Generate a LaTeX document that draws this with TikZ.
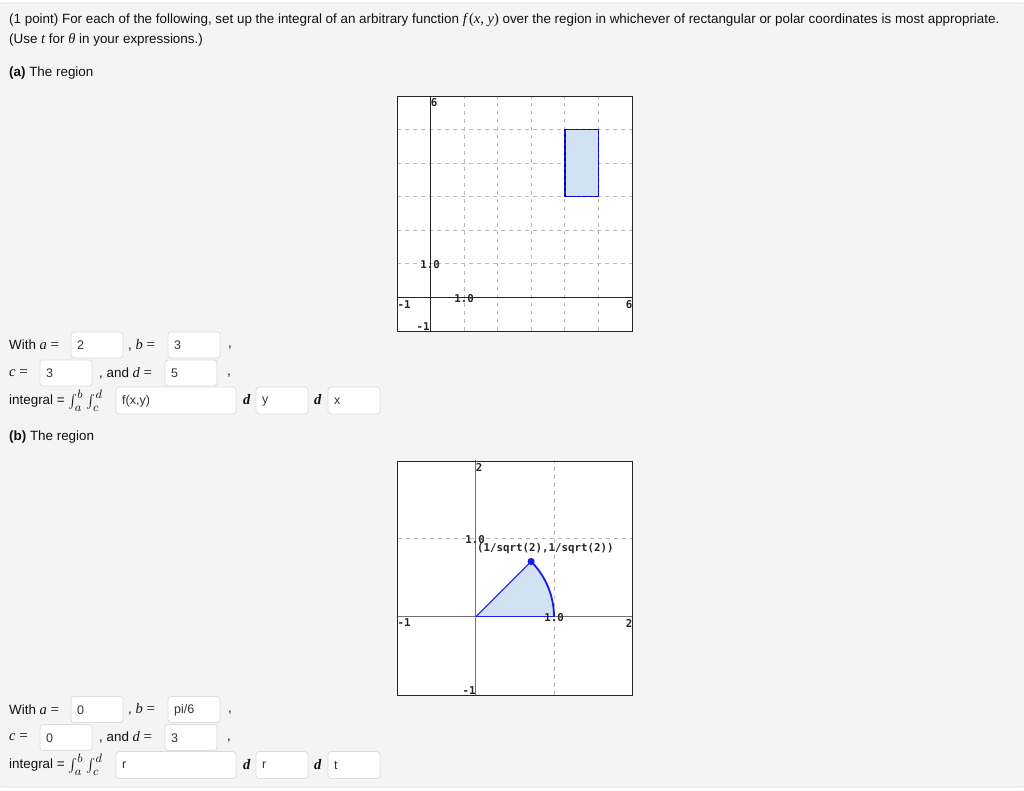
\documentclass[tikz,border=0pt]{standalone}
\usepackage{graphicx}
\usepackage{fontspec}
\setmainfont{Liberation Sans}
\newfontfamily\serifit{Liberation Serif}[ItalicFont={Liberation Serif Italic}]
\newfontfamily\monob{DejaVu Sans Mono Bold}
\definecolor{panel}{HTML}{F4F4F4}
\definecolor{panelline}{HTML}{DDDDDD}
\definecolor{boxline}{HTML}{DCDCDC}
\definecolor{txt}{HTML}{111111}
\definecolor{inp}{HTML}{333333}
\definecolor{gridc}{HTML}{B8B8B8}
\definecolor{regfill}{HTML}{D3E2F2}
\definecolor{regblue}{HTML}{1A1AF0}
\newcommand{\mi}[1]{{\serifit\fontsize{14.5}{15}\selectfont\itshape #1}}
\newcommand{\meq}{{\serifit\fontsize{15}{15}\selectfont =}}
\newcommand{\intab}{\raisebox{-2pt}{\scalebox{1.35}{$\int_a^b \int_c^d$}}}
\tikzset{
  lbl/.style={inner sep=0pt, anchor=west, text=txt, font=\fontsize{13.4}{15}\selectfont},
  inbox/.style={draw=boxline, fill=white, rounded corners=3pt, line width=0.8pt},
  intext/.style={inner sep=0pt, anchor=west, text=inp, font=\fontsize{12.5}{14}\selectfont},
  glbl/.style={inner sep=0pt, text=black!85, font=\monob\fontsize{10.8}{11}\selectfont},
  gridl/.style={draw=gridc, line width=0.8pt, dash pattern=on 4pt off 4pt},
  frame/.style={draw=black!85, line width=1pt, fill=white},
}
\begin{document}
\begin{tikzpicture}[x=1pt,y=-1pt]
\useasboundingbox (0,0) rectangle (1024,791);
\fill[white] (0,0) rectangle (1024,791);
\draw[fill=panel, draw=panelline, rounded corners=4pt, line width=0.8pt] (-2,3) rectangle (1026,787);

% header
\node[lbl] (h1) at (9,20) {(1 point) For each of the following, set up the integral of an arbitrary function \mi{f}\,{\serifit\fontsize{14.5}{15}\selectfont(\mi{x}, \mi{y})} over the region in whichever of rectangular or polar coordinates is most appropriate.};
\node[lbl] (h2) at (9,40) {(Use \mi{t} for \mi{θ} in your expressions.)};
\node[lbl] (ha) at (9,73) {\textbf{(a)} The region};
\node[lbl] (hb) at (9,437.5) {\textbf{(b)} The region};

% ---------- input rows
\foreach \off/\va/\vb/\vc/\vd/\vf/\vg/\vh/\s in {0/2/3/3/5/{f(x,y)}/y/x/a, 364.5/0/{pi/6}/0/3/r/r/t/b}{
  \begin{scope}[yshift=-\off pt]
  \node[lbl] (with\s) at (9,345) {With \mi{a} \meq};
  \draw[inbox] (71,332) rectangle (123,358);
  \node[intext] (ia\s) at (77,345.5) {\va};
  \node[lbl] (bl\s) at (128,345) {, \mi{b} \meq};
  \draw[inbox] (168,332) rectangle (220,358);
  \node[intext] (ib\s) at (174,345.5) {\vb};
  \node[lbl] (cm1\s) at (228,348) {,};
  \node[lbl] (cl\s) at (9,373) {\mi{c} \meq};
  \draw[inbox] (40,360) rectangle (92,386);
  \node[intext] (ic\s) at (46,373.5) {\vc};
  \node[lbl] (dl\s) at (99,373) {, and \mi{d} \meq};
  \draw[inbox] (165,360) rectangle (217,386);
  \node[intext] (id\s) at (171,373.5) {\vd};
  \node[lbl] (cm2\s) at (227,376) {,};
  \node[lbl] (il\s) at (9,400.5) {integral = \intab};
  \draw[inbox] (116,387) rectangle (236,414);
  \node[intext] (if\s) at (122,401) {\vf};
  \node[lbl] (d1\s) at (243,400) {\mi{\textbf{d}}};
  \draw[inbox] (256,387) rectangle (308,414);
  \node[intext] (ig\s) at (262,401) {\vg};
  \node[lbl] (d2\s) at (314,400) {\mi{\textbf{d}}};
  \draw[inbox] (328,387) rectangle (380,414);
  \node[intext] (ih\s) at (334,401) {\vh};
  \end{scope}
}

% ---------- graph (a)
\draw[frame] (397,96.5) rectangle (632,331);
\begin{scope}[shift={(430.6,297.4)}, x=33.57pt, y=33.57pt]
  \foreach \i in {1,...,5} {
    \draw[gridl] (\i,-1) -- (\i,6);
    \draw[gridl] (-1,\i) -- (6,\i);
  }
  \draw[black!85, line width=0.9pt] (-1,0) -- (6,0);
  \draw[black!85, line width=0.9pt] (0,-1) -- (0,6);
  \fill[regfill] (4,3) rectangle (5,5);
  \draw[regblue, line width=1.5pt] (4,3) rectangle (5,5);
  \draw[blue!70!black, line width=1.5pt, dash pattern=on 3pt off 3pt] (4,3) rectangle (5,5);
\end{scope}
\draw[frame, fill=none] (397,96.5) rectangle (632,331);
\node[glbl] (a6t) at (434,103) {6};
\node[glbl] (a1y) at (430,265) {1.0};
\node[glbl] (a1x) at (464,299) {1.0};
\node[glbl] (am1l) at (404,305) {-1};
\node[glbl] (a6r) at (629,305) {6};
\node[glbl] (am1b) at (423,327) {-1};

% ---------- graph (b)
\draw[frame] (397,461) rectangle (632,695);
\begin{scope}[shift={(475.8,616.8)}, x=78.2pt, y=78.2pt]
  \draw[gridl] (1,-1) -- (1,2);
  \draw[gridl] (-1,1) -- (2,1);
  \draw[black!55, line width=1pt] (-1,0) -- (2,0);
  \draw[black!55, line width=1pt] (0,-1) -- (0,2);
  \fill[regfill] (0,0) -- (1,0) arc[start angle=0, end angle=45, radius=1] -- cycle;
  \draw[regblue, line width=1pt] (0,0) -- (1,0);
  \draw[regblue, line width=1pt] (0,0) -- (45:1);
  \draw[regblue, line width=1.8pt] (1,0) arc[start angle=0, end angle=45, radius=1];
  \fill[regblue] (45:1) circle[radius=3.6pt];
\end{scope}
\draw[frame, fill=none] (397,461) rectangle (632,695);
\node[glbl] (b2t) at (479,467) {2};
\node[glbl] (b1y) at (475,540) {1.0};
\node[glbl, anchor=west] (bpt) at (477,548.5) {(1/sqrt(2),1/sqrt(2))};
\node[glbl] (b1x) at (554,618) {1.0};
\node[glbl] (bm1l) at (404,623) {-1};
\node[glbl] (b2r) at (629,623) {2};
\node[glbl] (bm1b) at (469,691) {-1};
\end{tikzpicture}
\end{document}
